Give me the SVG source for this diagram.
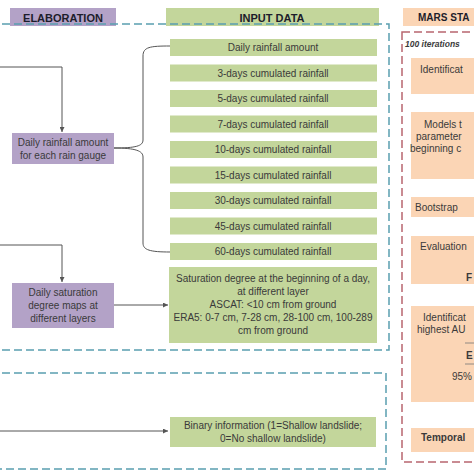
<svg xmlns="http://www.w3.org/2000/svg" width="474" height="474" viewBox="0 0 474 474">
<defs>
<marker id="ah" viewBox="0 0 6 6" refX="6" refY="3" markerWidth="5" markerHeight="5" orient="auto"><path d="M0,0 L6,3 L0,6 z" fill="#555"/></marker>
<style>
text{font-family:"Liberation Sans",Arial,sans-serif;font-size:10px;fill:#3a3a3a;text-anchor:middle}
.h{font-weight:bold;font-size:11px;fill:#1d1d2b}
.s{text-anchor:start}
.p{fill:#b3a2c7}
.g{fill:#c3d69b}
.o{fill:#fbd5b5}
.bd{fill:none;stroke:#5a9fb0;stroke-width:1.5;stroke-dasharray:8,4}
.rd{fill:none;stroke:#b8666f;stroke-width:1.5;stroke-dasharray:8,4}
.c{fill:none;stroke:#555;stroke-width:1}
</style>
</defs>
<rect width="474" height="474" fill="#fff"/>
<g id="hdr-elab"><rect class="p" x="10" y="8" width="106" height="18"/><text class="h" x="63" y="21.5">ELABORATION</text></g>
<g id="hdr-input"><rect class="g" x="166" y="8" width="213" height="18"/><text class="h" x="272" y="21.5">INPUT DATA</text></g>
<g id="hdr-mars"><rect class="o" x="403" y="8" width="80" height="18"/><text class="h s" x="418" y="21" style="font-size:10px">MARS STA</text></g>
<rect class="bd" x="-10" y="24" width="399" height="326"/>
<rect class="bd" x="-10" y="373" width="396" height="96"/>
<rect class="rd" x="402" y="32" width="90" height="430"/>
<g id="rain-gauge"><rect class="p" x="12" y="133" width="102" height="31"/><text x="63" y="145.5">Daily rainfall amount</text><text x="63" y="158.5">for each rain gauge</text></g>
<g id="sat-maps"><rect class="p" x="12" y="283" width="102" height="45"/><text x="63" y="296">Daily saturation</text><text x="63" y="309">degree maps at</text><text x="63" y="322">different  layers</text></g>
<g id="in1"><rect class="g" x="170" y="39" width="207" height="17"/><text x="273" y="51">Daily rainfall amount</text></g>
<g id="in2"><rect class="g" x="170" y="64.5" width="207" height="17"/><text x="273" y="76.5">3-days cumulated rainfall</text></g>
<g id="in3"><rect class="g" x="170" y="90" width="207" height="17"/><text x="273" y="102">5-days cumulated rainfall</text></g>
<g id="in4"><rect class="g" x="170" y="115.5" width="207" height="17"/><text x="273" y="127.5">7-days cumulated rainfall</text></g>
<g id="in5"><rect class="g" x="170" y="141" width="207" height="17"/><text x="273" y="153">10-days cumulated rainfall</text></g>
<g id="in6"><rect class="g" x="170" y="166.5" width="207" height="17"/><text x="273" y="178.5">15-days cumulated rainfall</text></g>
<g id="in7"><rect class="g" x="170" y="192" width="207" height="17"/><text x="273" y="204">30-days cumulated rainfall</text></g>
<g id="in8"><rect class="g" x="170" y="217.5" width="207" height="17"/><text x="273" y="229.5">45-days cumulated rainfall</text></g>
<g id="in9"><rect class="g" x="170" y="243" width="207" height="17"/><text x="273" y="255">60-days cumulated rainfall</text></g>
<g id="in-sat"><rect class="g" x="169" y="267" width="208" height="76"/><text x="273" y="282">Saturation degree at the beginning of a day,</text><text x="273" y="295">at different layer</text><text x="273" y="308">ASCAT: &lt;10 cm from ground</text><text x="273" y="321">ERA5: 0-7 cm, 7-28 cm, 28-100 cm, 100-289</text><text x="273" y="334">cm from ground</text></g>
<g id="in-bin"><rect class="g" x="170" y="417" width="206" height="30"/><text x="273" y="429">Binary information (1=Shallow landslide;</text><text x="273" y="442">0=No shallow landslide)</text></g>
<text class="s" x="405" y="47" style="font-style:italic;font-weight:bold;font-size:8.5px">100 iterations</text>
<g id="m1"><rect class="o" x="411" y="58" width="80" height="36"/><text class="s" x="420" y="73">Identificat</text></g>
<g id="m2"><rect class="o" x="411" y="112" width="80" height="67"/><text class="s" x="424" y="128">Models t</text><text class="s" x="416" y="140">parameter</text><text class="s" x="410" y="152">beginning c</text></g>
<g id="m3"><rect class="o" x="411" y="197" width="80" height="20"/><text class="s" x="415" y="211">Bootstrap</text></g>
<g id="m4"><rect class="o" x="411" y="236" width="80" height="48"/><text class="s" x="420" y="250">Evaluation</text><text class="s" x="466" y="281" style="font-weight:bold">F</text></g>
<g id="m5"><rect class="o" x="411" y="306" width="80" height="96"/><text class="s" x="423" y="321">Identificat</text><text class="s" x="417" y="333">highest AU</text><line x1="465" y1="343" x2="474" y2="343" stroke="#777" stroke-width="0.8"/><text class="s" x="466" y="359" style="font-weight:bold">E</text><line x1="465" y1="364" x2="474" y2="364" stroke="#777" stroke-width="0.8"/><text class="s" x="452" y="380">95%</text></g>
<g id="m6"><rect class="o" x="411" y="428" width="80" height="24"/><text class="s" x="421" y="441" style="font-weight:bold">Temporal</text></g>
<g id="connectors">
<path class="c" d="M0 67 H62 V132" marker-end="url(#ah)"/>
<path class="c" d="M0 245 H62 V282" marker-end="url(#ah)"/>
<path class="c" d="M114 305 H168" marker-end="url(#ah)"/>
<path class="c" d="M0 431 H168" marker-end="url(#ah)"/>
<path class="c" d="M170 46 C150 46 143 47 143 56 L143 140 C143 146 136 148 114 148 C136 148 143 151 143 157 L143 243 C143 250 150 252 170 252"/>
</g>
</svg>
